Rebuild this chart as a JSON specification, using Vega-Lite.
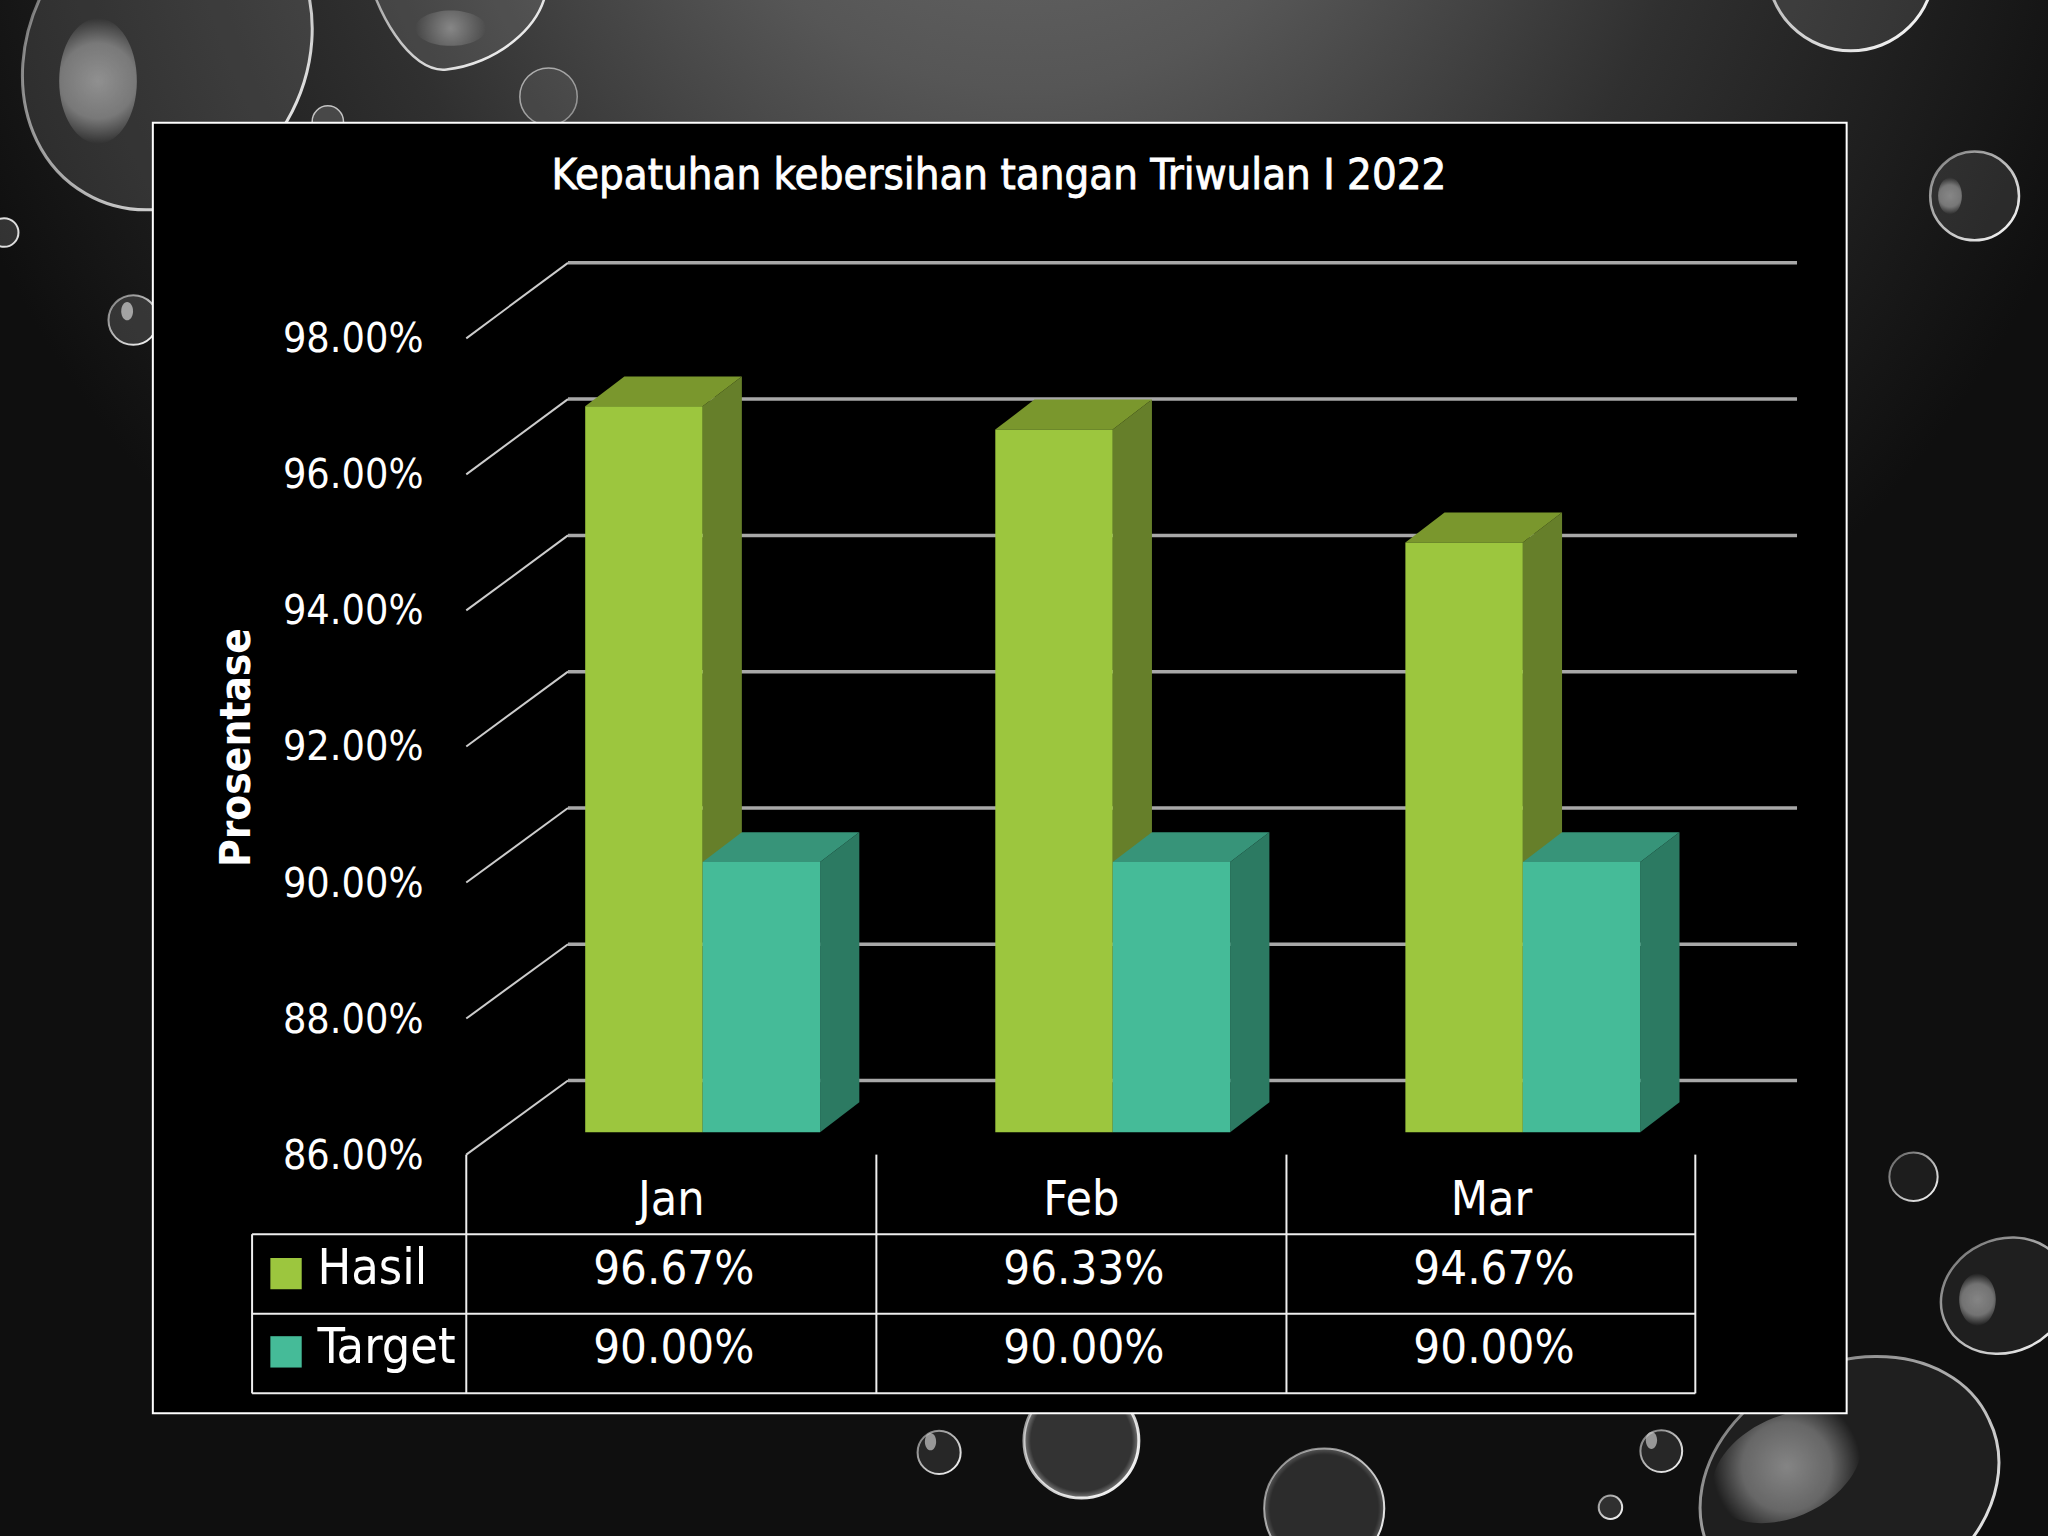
{
"$schema":"https://vega.github.io/schema/vega-lite/v6.json",
"width":2048,"height":1536,"padding":0,
"autosize":{"type":"fit","contains":"padding"},
"background":"#0f0f0f",
"data":{"values":[{}]},
"config":{"view":{"stroke":null},"axisX":{"disable":true},"text":{"font":"DejaVu Sans Condensed","color":"#ffffff"}},
"datasets":{
"bars":[
{"month":"Jan","series":"Hasil","value":96.67},
{"month":"Feb","series":"Hasil","value":96.33},
{"month":"Mar","series":"Hasil","value":94.67},
{"month":"Jan","series":"Target","value":90.0},
{"month":"Feb","series":"Target","value":90.0},
{"month":"Mar","series":"Target","value":90.0}
],
"ticks":[{"tick":86},{"tick":88},{"tick":90},{"tick":92},{"tick":94},{"tick":96},{"tick":98}]
},
"layer":[
{"mark":{"type":"rect","opacity":1,"fill":{"gradient":"radial","x1":0.5,"y1":0,"r1":0,"x2":0.5,"y2":0,"r2":0.56,"stops":[{"offset":0,"color":"#6c6c6c"},{"offset":0.3,"color":"#565656"},{"offset":0.6,"color":"#303030"},{"offset":1,"color":"#0f0f0f"}]}},
"encoding":{"x":{"datum":-0.637,"type":"quantitative","scale":{"domain":[-0.637,4.357],"nice":false,"zero":false}},"x2":{"datum":4.357},"y":{"datum":80.393,"type":"quantitative","scale":{"domain":[80.393,102.974],"nice":false,"zero":false}},"y2":{"datum":102.974}}},

{"mark":{"type":"point","shape":"M-0.5,0.866 A1,0.84 -60 1 1 0.5,-0.866 A1,0.84 -60 1 1 -0.5,0.866Z","filled":true,"clip":true,"opacity":1,"strokeWidth":3,"fill":"rgba(255,255,255,0.11)","stroke":{"gradient":"linear","x1":0,"y1":0,"x2":1,"y2":1,"stops":[{"offset":0,"color":"rgba(255,255,255,0.3)"},{"offset":0.5,"color":"rgba(255,255,255,0.6)"},{"offset":1,"color":"#ffffff"}]}},"encoding":{"x":{"datum":-0.229,"type":"quantitative"},"y":{"datum":102.206,"type":"quantitative"},"size":{"value":106600}}},
{"mark":{"type":"point","shape":"M-0.62,0 A0.62,1 0 1 1 0.62,0 A0.62,1 0 1 1 -0.62,0Z","filled":true,"clip":true,"opacity":1,"fill":{"gradient":"radial","x1":0.5,"y1":0.5,"r1":0,"x2":0.5,"y2":0.5,"r2":0.5,"stops":[{"offset":0,"color":"rgba(160,160,160,0.85)"},{"offset":0.6,"color":"rgba(150,150,150,0.7)"},{"offset":1,"color":"rgba(150,150,150,0)"}]}},"encoding":{"x":{"datum":-0.398,"type":"quantitative"},"y":{"datum":101.784,"type":"quantitative"},"size":{"value":15700}}},
{"mark":{"type":"point","shape":"M-1,-0.4 C-0.9,0.15 -0.5,0.85 -0.1,0.8 C0.4,0.75 1,0.35 1,-0.2 C1,-1 -1,-1 -1,-0.4Z","filled":true,"clip":true,"opacity":1,"strokeWidth":2.5,"fill":"rgba(255,255,255,0.1)","stroke":{"gradient":"linear","x1":0,"y1":0,"x2":1,"y2":1,"stops":[{"offset":0,"color":"rgba(255,255,255,0.4)"},{"offset":1,"color":"#ffffff"}]}},"encoding":{"x":{"datum":0.4745,"type":"quantitative"},"y":{"datum":103.03,"type":"quantitative"},"size":{"value":33489}}},
{"mark":{"type":"point","shape":"M-1,0 A1,0.5 0 1 1 1,0 A1,0.5 0 1 1 -1,0Z","filled":true,"clip":true,"opacity":1,"fill":{"gradient":"radial","x1":0.5,"y1":0.5,"r1":0,"x2":0.5,"y2":0.5,"r2":0.5,"stops":[{"offset":0,"color":"rgba(150,150,150,0.8)"},{"offset":1,"color":"rgba(150,150,150,0)"}]}},"encoding":{"x":{"datum":0.462,"type":"quantitative"},"y":{"datum":102.56,"type":"quantitative"},"size":{"value":5000}}},
{"mark":{"type":"point","shape":"circle","filled":true,"clip":true,"opacity":1,"strokeWidth":1.5,"fill":"rgba(255,255,255,0.07)","stroke":{"gradient":"linear","x1":0,"y1":0,"x2":1,"y2":1,"stops":[{"offset":0,"color":"rgba(255,255,255,0.6)"},{"offset":1,"color":"rgba(255,255,255,0.4)"}]}},"encoding":{"x":{"datum":0.7006,"type":"quantitative"},"y":{"datum":101.553,"type":"quantitative"},"size":{"value":3300}}},
{"mark":{"type":"point","shape":"circle","filled":true,"clip":true,"opacity":1,"stroke":"#ffffff","strokeOpacity":0.7,"strokeWidth":1.5,"fill":"rgba(255,255,255,0.15)"},"encoding":{"x":{"datum":0.1624,"type":"quantitative"},"y":{"datum":101.188,"type":"quantitative"},"size":{"value":982}}},
{"mark":{"type":"point","shape":"circle","filled":true,"clip":true,"opacity":1,"stroke":"#ffffff","strokeOpacity":0.85,"strokeWidth":2,"fill":"rgba(255,255,255,0.15)"},"encoding":{"x":{"datum":-0.627,"type":"quantitative"},"y":{"datum":99.556,"type":"quantitative"},"size":{"value":826}}},
{"mark":{"type":"point","shape":"circle","filled":true,"clip":true,"opacity":1,"strokeWidth":2,"fill":"rgba(255,255,255,0.14)","stroke":{"gradient":"linear","x1":0,"y1":0,"x2":1,"y2":1,"stops":[{"offset":0,"color":"rgba(255,255,255,0.4)"},{"offset":1,"color":"#ffffff"}]}},"encoding":{"x":{"datum":-0.312,"type":"quantitative"},"y":{"datum":98.269,"type":"quantitative"},"size":{"value":2463}}},
{"mark":{"type":"point","shape":"M-0.65,0 A0.65,1 0 1 1 0.65,0 A0.65,1 0 1 1 -0.65,0Z","filled":true,"clip":true,"opacity":1,"fill":"rgba(200,200,200,0.75)"},"encoding":{"x":{"datum":-0.327,"type":"quantitative"},"y":{"datum":98.4,"type":"quantitative"},"size":{"value":330}}},
{"mark":{"type":"point","shape":"circle","filled":true,"clip":true,"opacity":1,"strokeWidth":2.5,"fill":"rgba(255,255,255,0.1)","stroke":{"gradient":"linear","x1":0,"y1":0,"x2":1,"y2":1,"stops":[{"offset":0,"color":"rgba(255,255,255,0.4)"},{"offset":1,"color":"#ffffff"}]}},"encoding":{"x":{"datum":4.178,"type":"quantitative"},"y":{"datum":100.094,"type":"quantitative"},"size":{"value":7885}}},
{"mark":{"type":"point","shape":"M-0.65,0 A0.65,1 0 1 1 0.65,0 A0.65,1 0 1 1 -0.65,0Z","filled":true,"clip":true,"opacity":1,"fill":{"gradient":"radial","x1":0.5,"y1":0.5,"r1":0,"x2":0.5,"y2":0.5,"r2":0.5,"stops":[{"offset":0,"color":"rgba(150,150,150,0.85)"},{"offset":0.6,"color":"rgba(150,150,150,0.7)"},{"offset":1,"color":"rgba(150,150,150,0)"}]}},"encoding":{"x":{"datum":4.118,"type":"quantitative"},"y":{"datum":100.094,"type":"quantitative"},"size":{"value":1338}}},
{"mark":{"type":"point","shape":"circle","filled":true,"clip":true,"opacity":1,"strokeWidth":3,"fill":"rgba(255,255,255,0.1)","stroke":{"gradient":"linear","x1":0,"y1":0,"x2":1,"y2":1,"stops":[{"offset":0,"color":"rgba(255,255,255,0.5)"},{"offset":1,"color":"#ffffff"}]}},"encoding":{"x":{"datum":3.876,"type":"quantitative"},"y":{"datum":103.454,"type":"quantitative"},"size":{"value":27900}}},
{"mark":{"type":"point","shape":"circle","filled":true,"clip":true,"opacity":1,"strokeWidth":2,"fill":"rgba(255,255,255,0.06)","stroke":{"gradient":"linear","x1":0,"y1":0,"x2":1,"y2":1,"stops":[{"offset":0,"color":"rgba(255,255,255,0.3)"},{"offset":1,"color":"#ffffff"}]}},"encoding":{"x":{"datum":4.029,"type":"quantitative"},"y":{"datum":85.674,"type":"quantitative"},"size":{"value":2335}}},
{"mark":{"type":"point","shape":"M-0.906,0.423 A1,0.85 -25 1 1 0.906,-0.423 A1,0.85 -25 1 1 -0.906,0.423Z","filled":true,"clip":true,"opacity":1,"strokeWidth":2.5,"fill":"rgba(255,255,255,0.07)","stroke":{"gradient":"linear","x1":0,"y1":0,"x2":1,"y2":1,"stops":[{"offset":0,"color":"rgba(255,255,255,0.35)"},{"offset":1,"color":"#ffffff"}]}},"encoding":{"x":{"datum":4.252,"type":"quantitative"},"y":{"datum":83.926,"type":"quantitative"},"size":{"value":17060}}},
{"mark":{"type":"point","shape":"M-0.7,0 A0.7,1 0 1 1 0.7,0 A0.7,1 0 1 1 -0.7,0Z","filled":true,"clip":true,"opacity":1,"fill":{"gradient":"radial","x1":0.5,"y1":0.5,"r1":0,"x2":0.5,"y2":0.5,"r2":0.5,"stops":[{"offset":0,"color":"rgba(150,150,150,0.85)"},{"offset":0.6,"color":"rgba(150,150,150,0.7)"},{"offset":1,"color":"rgba(150,150,150,0)"}]}},"encoding":{"x":{"datum":4.185,"type":"quantitative"},"y":{"datum":83.869,"type":"quantitative"},"size":{"value":2729}}},
{"mark":{"type":"point","shape":"M-0.906,0.423 A1,0.78 -25 1 1 0.906,-0.423 A1,0.78 -25 1 1 -0.906,0.423Z","filled":true,"clip":true,"opacity":1,"strokeWidth":3,"fill":"rgba(255,255,255,0.07)","stroke":{"gradient":"linear","x1":0,"y1":0,"x2":1,"y2":1,"stops":[{"offset":0,"color":"rgba(255,255,255,0.35)"},{"offset":1,"color":"#ffffff"}]}},"encoding":{"x":{"datum":3.873,"type":"quantitative"},"y":{"datum":81.14,"type":"quantitative"},"size":{"value":95000}}},
{"mark":{"type":"point","shape":"M-0.906,0.423 A1,0.63 -25 1 1 0.906,-0.423 A1,0.63 -25 1 1 -0.906,0.423Z","filled":true,"clip":true,"opacity":1,"fill":{"gradient":"radial","x1":0.5,"y1":0.5,"r1":0,"x2":0.5,"y2":0.5,"r2":0.5,"stops":[{"offset":0,"color":"rgba(150,150,150,0.85)"},{"offset":0.6,"color":"rgba(150,150,150,0.6)"},{"offset":1,"color":"rgba(150,150,150,0)"}]}},"encoding":{"x":{"datum":3.72,"type":"quantitative"},"y":{"datum":81.41,"type":"quantitative"},"size":{"value":24550}}},
{"mark":{"type":"point","shape":"circle","filled":true,"clip":true,"opacity":1,"strokeWidth":2,"fill":"rgba(255,255,255,0.1)","stroke":{"gradient":"linear","x1":0,"y1":0,"x2":1,"y2":1,"stops":[{"offset":0,"color":"rgba(255,255,255,0.4)"},{"offset":1,"color":"#ffffff"}]}},"encoding":{"x":{"datum":3.414,"type":"quantitative"},"y":{"datum":81.641,"type":"quantitative"},"size":{"value":1747}}},
{"mark":{"type":"point","shape":"M-0.65,0 A0.65,1 0 1 1 0.65,0 A0.65,1 0 1 1 -0.65,0Z","filled":true,"clip":true,"opacity":1,"fill":"rgba(200,200,200,0.7)"},"encoding":{"x":{"datum":3.39,"type":"quantitative"},"y":{"datum":81.8,"type":"quantitative"},"size":{"value":300}}},
{"mark":{"type":"point","shape":"circle","filled":true,"clip":true,"opacity":1,"strokeWidth":2,"fill":"rgba(255,255,255,0.14)","stroke":{"gradient":"linear","x1":0,"y1":0,"x2":1,"y2":1,"stops":[{"offset":0,"color":"rgba(255,255,255,0.5)"},{"offset":1,"color":"#ffffff"}]}},"encoding":{"x":{"datum":3.29,"type":"quantitative"},"y":{"datum":80.816,"type":"quantitative"},"size":{"value":552}}},
{"mark":{"type":"point","shape":"circle","filled":true,"clip":true,"opacity":1,"strokeWidth":2,"fill":{"gradient":"radial","x1":0.5,"y1":0.5,"r1":0,"x2":0.5,"y2":0.5,"r2":0.5,"stops":[{"offset":0,"color":"rgba(255,255,255,0.12)"},{"offset":0.9,"color":"rgba(255,255,255,0.12)"},{"offset":1,"color":"rgba(255,255,255,0.3)"}]},"stroke":{"gradient":"linear","x1":0,"y1":0,"x2":1,"y2":1,"stops":[{"offset":0,"color":"rgba(255,255,255,0.4)"},{"offset":1,"color":"#ffffff"}]}},"encoding":{"x":{"datum":2.592,"type":"quantitative"},"y":{"datum":80.796,"type":"quantitative"},"size":{"value":14440}}},
{"mark":{"type":"point","shape":"circle","filled":true,"clip":true,"opacity":1,"strokeWidth":3,"fill":{"gradient":"radial","x1":0.5,"y1":0.5,"r1":0,"x2":0.5,"y2":0.5,"r2":0.5,"stops":[{"offset":0,"color":"rgba(255,255,255,0.15)"},{"offset":0.88,"color":"rgba(255,255,255,0.15)"},{"offset":1,"color":"rgba(255,255,255,0.45)"}]},"stroke":{"gradient":"linear","x1":0,"y1":0,"x2":1,"y2":1,"stops":[{"offset":0,"color":"rgba(255,255,255,0.5)"},{"offset":1,"color":"#ffffff"}]}},"encoding":{"x":{"datum":2,"type":"quantitative"},"y":{"datum":81.795,"type":"quantitative"},"size":{"value":13200}}},
{"mark":{"type":"point","shape":"circle","filled":true,"clip":true,"opacity":1,"strokeWidth":2,"fill":"rgba(255,255,255,0.1)","stroke":{"gradient":"linear","x1":0,"y1":0,"x2":1,"y2":1,"stops":[{"offset":0,"color":"rgba(255,255,255,0.4)"},{"offset":1,"color":"#ffffff"}]}},"encoding":{"x":{"datum":1.653,"type":"quantitative"},"y":{"datum":81.622,"type":"quantitative"},"size":{"value":1857}}},
{"mark":{"type":"point","shape":"M-0.65,0 A0.65,1 0 1 1 0.65,0 A0.65,1 0 1 1 -0.65,0Z","filled":true,"clip":true,"opacity":1,"fill":"rgba(200,200,200,0.7)"},"encoding":{"x":{"datum":1.632,"type":"quantitative"},"y":{"datum":81.78,"type":"quantitative"},"size":{"value":300}}},

{"mark":{"type":"rect","opacity":1,"fill":"#000000","stroke":"#ffffff","strokeWidth":2},
"encoding":{"x":{"datum":-0.2643,"type":"quantitative"},"x2":{"datum":3.866},"y":{"datum":101.169,"type":"quantitative"},"y2":{"datum":82.198}}},

{"data":{"name":"ticks"},"transform":[{"calculate":"99.11+(datum.tick-98)*1.0017","as":"back"}],
"mark":{"type":"rule","stroke":"#a8a8a8","strokeWidth":3.5},
"encoding":{"x":{"datum":0.748,"type":"quantitative"},"x2":{"datum":3.745},"y":{"field":"back","type":"quantitative"}}},
{"data":{"name":"ticks"},"transform":[{"calculate":"99.11+(datum.tick-98)*1.0017","as":"back"}],
"mark":{"type":"rule","stroke":"#cccccc","strokeWidth":2},
"encoding":{"x":{"datum":0.5,"type":"quantitative"},"x2":{"datum":0.748},"y":{"field":"tick","type":"quantitative","axis":{"zindex":1,"values":[86,88,90,92,94,96,98],"labelExpr":"format(datum.value,'.2f')+'%'","offset":-423,"domain":false,"ticks":false,"grid":false,"labelPadding":0,"labelOffset":1.5,"labelFont":"DejaVu Sans Condensed","labelFontSize":41,"labelColor":"#ffffff","title":"Prosentase","titleFont":"DejaVu Sans Condensed","titleFontSize":42,"titleFontWeight":"bold","titleColor":"#ffffff","titleX":-165,"titleY":747}},"y2":{"field":"back"}}},

{"data":{"name":"bars"},
"transform":[
{"calculate":"indexof(['Jan','Feb','Mar'],datum.month)+1+(datum.series=='Hasil'?-0.21:0.0764)","as":"pos"},
{"calculate":"datum.pos+0.2864","as":"posR"},
{"calculate":"datum.pos+0.382","as":"posB"},
{"fold":["posR","posB"],"as":["edge","edgeX"]},
{"calculate":"datum.value+(datum.series=='Hasil'?0.33:0.3)+(datum.edge=='posB'?0.44:0)","as":"yTop"},
{"calculate":"86.33+(datum.edge=='posB'?0.44:0)","as":"yBase"}
],
"mark":{"type":"area","orient":"vertical","opacity":1},
"encoding":{"x":{"field":"edgeX","type":"quantitative"},"y":{"field":"yTop","type":"quantitative","stack":null},"y2":{"field":"yBase"},"detail":{"field":"month"},
"color":{"field":"series","type":"nominal","scale":{"domain":["Hasil","Target"],"range":["#667f2a","#2c7a62"]},"legend":null}}},
{"data":{"name":"bars"},
"transform":[
{"calculate":"indexof(['Jan','Feb','Mar'],datum.month)+1+(datum.series=='Hasil'?-0.21:0.0764)","as":"pos"},
{"calculate":"datum.value+(datum.series=='Hasil'?0.33:0.3)","as":"top"},
{"calculate":"datum.top+0.44","as":"topB"},
{"fold":["top","topB"],"as":["edge","edgeY"]},
{"calculate":"datum.pos+(datum.edge=='topB'?0.0955:0)","as":"xL"},
{"calculate":"datum.xL+0.2864","as":"xR"}
],
"mark":{"type":"area","orient":"horizontal","opacity":1},
"encoding":{"y":{"field":"edgeY","type":"quantitative"},"x":{"field":"xL","type":"quantitative","stack":null},"x2":{"field":"xR"},"detail":{"field":"month"},
"color":{"field":"series","type":"nominal","scale":{"domain":["Hasil","Target"],"range":["#7a972d","#379479"]},"legend":null}}},
{"data":{"name":"bars"},
"transform":[
{"calculate":"indexof(['Jan','Feb','Mar'],datum.month)+1+(datum.series=='Hasil'?-0.21:0.0764)","as":"pos"},
{"calculate":"datum.pos+0.2864","as":"posR"},
{"calculate":"datum.value+(datum.series=='Hasil'?0.33:0.3)","as":"top"}
],
"mark":{"type":"rect","opacity":1},
"encoding":{"x":{"field":"pos","type":"quantitative"},"x2":{"field":"posR"},"y":{"field":"top","type":"quantitative"},"y2":{"datum":86.33},
"color":{"field":"series","type":"nominal","scale":{"domain":["Hasil","Target"],"range":["#9cc63e","#45bb98"]},"legend":null}}},

{"mark":{"type":"rule","stroke":"#eeeeee","strokeWidth":2},"encoding":{"x":{"datum":-0.0223,"type":"quantitative"},"x2":{"datum":3.497},"y":{"datum":84.83,"type":"quantitative"}}},
{"mark":{"type":"rule","stroke":"#eeeeee","strokeWidth":2},"encoding":{"x":{"datum":-0.0223,"type":"quantitative"},"x2":{"datum":3.497},"y":{"datum":83.66,"type":"quantitative"}}},
{"mark":{"type":"rule","stroke":"#eeeeee","strokeWidth":2},"encoding":{"x":{"datum":-0.0223,"type":"quantitative"},"x2":{"datum":3.497},"y":{"datum":82.49,"type":"quantitative"}}},
{"mark":{"type":"rule","stroke":"#eeeeee","strokeWidth":2},"encoding":{"x":{"datum":-0.0223,"type":"quantitative"},"y":{"datum":84.83,"type":"quantitative"},"y2":{"datum":82.49}}},
{"mark":{"type":"rule","stroke":"#eeeeee","strokeWidth":2},"encoding":{"x":{"datum":0.5,"type":"quantitative"},"y":{"datum":86,"type":"quantitative"},"y2":{"datum":82.49}}},
{"mark":{"type":"rule","stroke":"#eeeeee","strokeWidth":2},"encoding":{"x":{"datum":1.5,"type":"quantitative"},"y":{"datum":86,"type":"quantitative"},"y2":{"datum":82.49}}},
{"mark":{"type":"rule","stroke":"#eeeeee","strokeWidth":2},"encoding":{"x":{"datum":2.5,"type":"quantitative"},"y":{"datum":86,"type":"quantitative"},"y2":{"datum":82.49}}},
{"mark":{"type":"rule","stroke":"#eeeeee","strokeWidth":2},"encoding":{"x":{"datum":3.497,"type":"quantitative"},"y":{"datum":86,"type":"quantitative"},"y2":{"datum":82.49}}},

{"data":{"name":"bars"},
"transform":[{"filter":"datum.series=='Hasil'"},{"calculate":"indexof(['Jan','Feb','Mar'],datum.month)+1","as":"col"}],
"mark":{"type":"text","fontSize":48,"align":"center","baseline":"middle"},
"encoding":{"x":{"field":"col","type":"quantitative"},"y":{"datum":85.32,"type":"quantitative"},"text":{"field":"month"}}},
{"data":{"name":"bars"},
"transform":[{"calculate":"indexof(['Jan','Feb','Mar'],datum.month)+1.006","as":"col"},{"calculate":"format(datum.value,'.2f')+'%'","as":"label"},{"calculate":"datum.series=='Hasil'?84.31:83.14","as":"row"}],
"mark":{"type":"text","fontSize":47,"align":"center","baseline":"middle"},
"encoding":{"x":{"field":"col","type":"quantitative"},"y":{"field":"row","type":"quantitative"},"text":{"field":"label"}}},
{"data":{"name":"bars"},
"transform":[{"filter":"datum.month=='Jan'"},{"calculate":"datum.series=='Hasil'?84.32:83.15","as":"row"}],
"mark":{"type":"text","fontSize":50,"align":"left","baseline":"middle"},
"encoding":{"x":{"datum":0.137,"type":"quantitative"},"y":{"field":"row","type":"quantitative"},"text":{"field":"series"}}},
{"data":{"name":"bars"},
"transform":[{"filter":"datum.month=='Jan'"},{"calculate":"datum.series=='Hasil'?84.25:83.1","as":"row"}],
"mark":{"type":"point","shape":"square","filled":true,"opacity":1,"size":983},
"encoding":{"x":{"datum":0.0605,"type":"quantitative"},"y":{"field":"row","type":"quantitative"},
"color":{"field":"series","type":"nominal","scale":{"domain":["Hasil","Target"],"range":["#9cc63e","#45bb98"]},"legend":null}}},
{"mark":{"type":"text","text":"Kepatuhan kebersihan tangan Triwulan I 2022","fontSize":43.4,"stroke":"#ffffff","strokeWidth":0.8,"align":"center","baseline":"middle"},
"encoding":{"x":{"datum":1.799,"type":"quantitative"},"y":{"datum":100.38,"type":"quantitative"}}}
],
"resolve":{"scale":{"color":"independent"}}
}
